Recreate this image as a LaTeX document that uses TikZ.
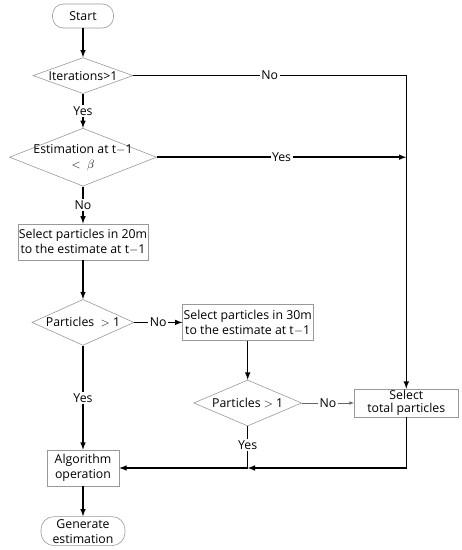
\documentclass[tikz,border=0pt]{standalone}
\usepackage{fontspec}
\setmainfont{Open Sans}
\usepackage{tikz}
\usetikzlibrary{shapes.geometric, arrows, positioning}

\begin{document}
\begin{tikzpicture}[
    node distance=30pt,
    every node/.style={font=\fontsize{12.3}{15}\selectfont},
    term/.style={rectangle, rounded corners=11pt, draw=gray!80, line width=0.6pt, align=center, inner sep=1pt},
    box/.style={rectangle, draw=gray!80, line width=0.6pt, align=center, inner sep=1pt, minimum width=128pt, minimum height=36pt},
    decision/.style={diamond, draw=gray!80, line width=0.6pt, align=center, inner xsep=0pt, inner ysep=-4pt, aspect=2.7},
    lbl/.style={fill=white, inner sep=1.5pt},
    arrow/.style={->, >=latex, line width=1.5pt},
    thinarrow/.style={->, >=latex, line width=0.6pt, gray!80!black}
]
\useasboundingbox (0,0) rectangle (462pt,-550pt);

\node[term, minimum width=61pt, minimum height=24pt] (start) at (83pt,-16pt) {Start};
\node[decision, minimum width=100pt, minimum height=36pt, below=29pt of start] (iter) {Iterations>1};
\node[decision, minimum width=147pt, minimum height=58pt, inner ysep=-7pt, below=34pt of iter] (est) {Estimation at t$-$1\\$<$\ \ $\beta$};
\node[box, below=37pt of est] (sel20) {Select particles in 20m\\to the estimate at t$-$1};
\node[decision, minimum width=102pt, minimum height=46pt, below=39pt of sel20] (part1) {Particles \ $>$ 1};
\node[box, right=48pt of part1] (sel30) {Select particles in 30m\\to the estimate at t$-$1};
\node[decision, minimum width=108pt, minimum height=46pt, below=39pt of sel30] (part2) {Particles $>$ 1};
\node[box, minimum width=104pt, minimum height=28pt, right=52pt of part2, font=\fontsize{12.3}{12.5}\selectfont] (total) {Select\\total particles};
\node[box, minimum width=72pt, below=104pt of part1] (algo) {Algorithm\\operation};
\node[term, minimum width=84pt, minimum height=29pt, rounded corners=13pt, below=30pt of algo] (gen) {Generate\\estimation};

\coordinate (join) at (part2 |- algo);

\draw[arrow] (start) -- (iter);
\draw[arrow] (iter) -- node[lbl] {Yes} (est);
\draw[arrow] (iter.east) -- node[lbl] {No} (iter -| total) -- (total);
\draw[arrow] (est.east) -- node[lbl] {Yes} (est -| total);
\draw[arrow] (est) -- node[lbl] {No} (sel20);
\draw[arrow] (sel20) -- (part1);
\draw[arrow] (part1) -- node[lbl] {No} (sel30);
\draw[arrow] (part1) -- node[lbl, pos=0.5] {Yes} (algo);
\draw[arrow] (sel30) -- (part2);
\draw[thinarrow] (part2) -- node[lbl, text=black] {No} (total);
\draw[line width=1.5pt] (part2) -- node[lbl, pos=0.45] {Yes} (join);
\draw[arrow] (join) -- (algo);
\draw[arrow] (total) |- (join);
\draw[arrow] (algo) -- (gen);

\end{tikzpicture}
\end{document}
